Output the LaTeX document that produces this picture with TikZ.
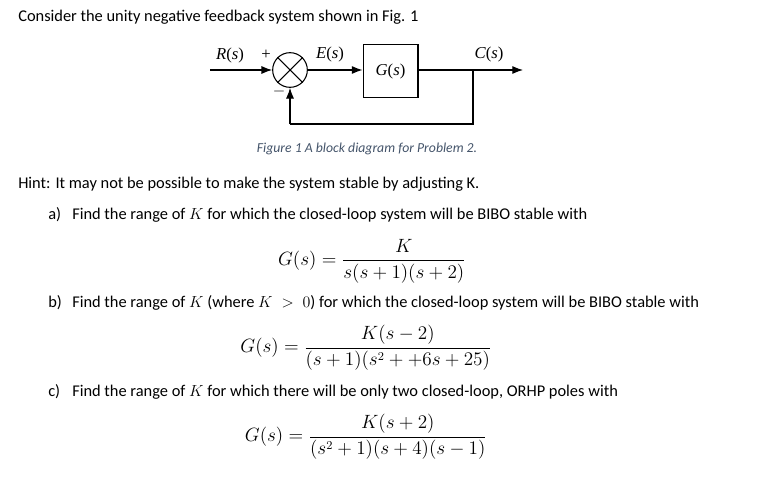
\documentclass[tikz,border=0pt]{standalone}
\usepackage{amsmath}
\usepackage{fontspec}
\setmainfont{Carlito}
\newfontfamily\timesf{Liberation Serif}
\definecolor{capc}{HTML}{44546A}
\usetikzlibrary{arrows.meta}
\begin{document}
\begin{tikzpicture}[x=0.75pt,y=-0.75pt,
  txt/.style={anchor=west,inner sep=0pt,font=\fontsize{12.3}{14}\selectfont},
  eq/.style={inner sep=0pt,font=\fontsize{13.5}{15}\selectfont},
  lbl/.style={inner sep=0pt,font=\fontsize{12.5}{14}\selectfont\timesf},
  sig/.style={-{Latex[length=8pt,width=6pt]},line width=0.8pt},
  ln/.style={line width=0.8pt}]
\useasboundingbox (0,0) rectangle (759,478);
\node[txt] (t0) at (18,17) {Consider the unity negative feedback system shown in Fig. 1};
% block diagram
\coordinate (in) at (210,70);
\node[circle,draw,line width=0.8pt,minimum size=26pt,inner sep=0pt] (sum) at (290,70) {};
\draw[line width=0.8pt] (sum.north west)--(sum.south east) (sum.north east)--(sum.south west);
\node[draw,line width=1pt,minimum width=41pt,minimum height=40pt,font=\fontsize{12.5}{14}\selectfont\timesf] (G) at (390.5,71) {\textit{G}(\textit{s})};
\coordinate (br) at (473,70);
\coordinate (out) at (523,70);
\coordinate (fb1) at (473,124);
\coordinate (fb2) at (290,124);
\draw[sig] (in) -- (sum.west);
\draw[sig] (sum.east) -- (G.west|-sum);
\draw[sig] (G.east|-sum) -- (out);
\draw[ln] (br) -- (fb1) -- (fb2);
\draw[sig] (fb2) -- (sum.south);
\node[lbl] (R) at (230,55) {\textit{R}(\textit{s})};
\node[lbl] (plus) at (266,55) {+};
\node[lbl] (E) at (330,54) {\textit{E}(\textit{s})};
\node[lbl] (C) at (489,54) {\textit{C}(\textit{s})};
\node[lbl] (minus) at (279,91) {$-$};
\node[inner sep=0pt,font=\fontsize{10.3}{12}\selectfont\itshape,text=capc] (cap) at (367,149) {Figure 1 A block diagram for Problem 2.};
\node[txt] (hint) at (18,184) {Hint: It may not be possible to make the system stable by adjusting K.};
\node[txt] (a) at (48,215) {a)};
\node[txt] (at) at (72,215) {Find the range of $K$ for which the closed-loop system will be BIBO stable with};
\node[eq] (ea) at (372,261) {$G(s)=\dfrac{K}{s(s+1)(s+2)}$};
\node[txt] (b) at (48,303) {b)};
\node[txt] (bt) at (72,303) {Find the range of $K$ (where $K\;>\;0$) for which the closed-loop system will be BIBO stable with};
\node[eq] (eb) at (366,348) {$G(s)=\dfrac{K(s-2)}{(s+1)(s^2++6s+25)}$};
\node[txt] (c) at (48,392) {c)};
\node[txt] (ct) at (72,392) {Find the range of $K$ for which there will be only two closed-loop, ORHP poles with};
\node[eq] (ec) at (366,437) {$G(s)=\dfrac{K(s+2)}{(s^2+1)(s+4)(s-1)}$};
\end{tikzpicture}
\end{document}
